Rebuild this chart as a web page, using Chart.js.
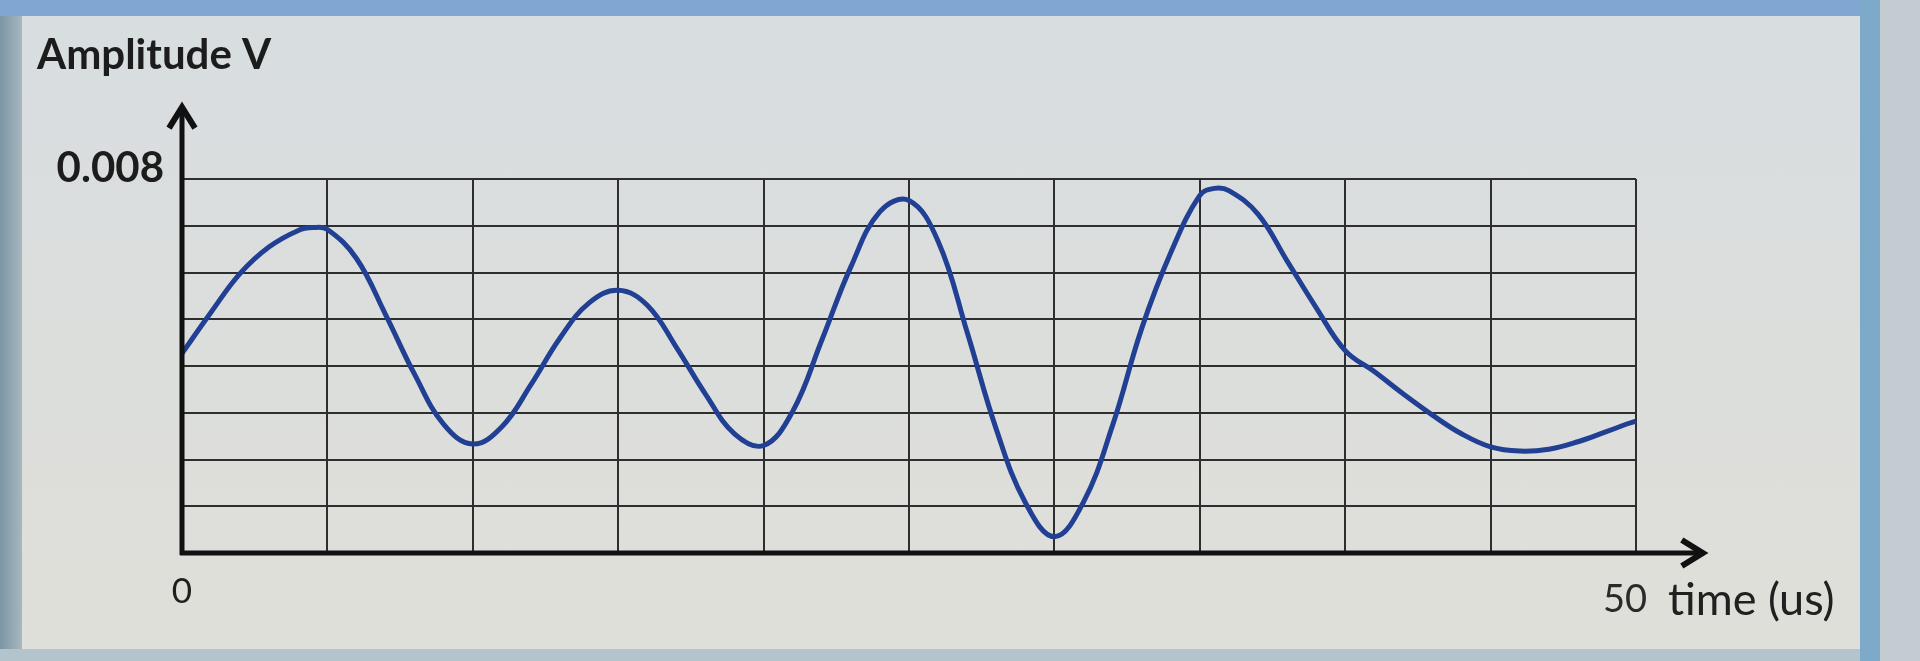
<!DOCTYPE html>
<html>
<head>
<meta charset="utf-8">
<script src="https://cdn.jsdelivr.net/npm/chart.js@4.4.1/dist/chart.umd.min.js"></script>
<style>
  html, body { margin: 0; padding: 0; }
  body { width: 1920px; height: 661px; overflow: hidden; position: relative;
         background: linear-gradient(to right, #7b95a4 0px, #a7b8bf 22px, #b8c7cf 100%); }
  .topband { position: absolute; left: 0; top: 0; width: 1920px; height: 16px; background: #80a7d2; }
  .rightband { position: absolute; left: 1860px; top: 0; width: 20px; height: 661px; background: #7eaaca; }
  .rightedge { position: absolute; left: 1880px; top: 0; width: 40px; height: 661px; background: #c3ccd0; }
  .bottomband { position: absolute; left: 0; top: 649px; width: 1860px; height: 12px; background: #b3c4cc; }
  .panel { position: absolute; left: 22px; top: 16px; width: 1838px; height: 633px;
           background: linear-gradient(to bottom, #d8dde1 0%, #dcdedc 50%, #dfdfd9 100%); }
  canvas { position: absolute; left: 0; top: 0; }
</style>
</head>
<body>
<div class="topband"></div>
<div class="rightband"></div>
<div class="rightedge"></div>
<div class="bottomband"></div>
<div class="panel"></div>
<canvas id="wave" width="1920" height="661"></canvas>
<script>
// time in microseconds, amplitude in millivolts
const timeUs = [0, 1, 2, 3, 4, 4.5, 5, 6, 7, 8, 9, 10, 11, 12, 13, 14, 15, 16, 17, 18, 19,
  20, 21, 22, 23, 24, 25, 26, 27, 28, 29, 30, 31, 32, 33, 34, 35, 35.5, 36, 37, 38, 39,
  40, 41, 42, 43, 44, 45, 46, 47, 48, 49, 50, 50.5];
const amplitudeMv = [4.27, 5.15, 5.98, 6.55, 6.9, 6.96, 6.92, 6.3, 5.1, 3.82, 2.75, 2.33, 2.7, 3.6, 4.6, 5.35, 5.62, 5.3, 4.4, 3.4, 2.55,
  2.3, 3.03, 4.55, 6.12, 7.3, 7.54, 6.67, 4.72, 2.65, 1.08, 0.35, 1.09, 2.73, 4.8, 6.42, 7.65, 7.8, 7.75, 7.25, 6.25, 5.25,
  4.33, 3.88, 3.4, 2.95, 2.55, 2.27, 2.18, 2.22, 2.38, 2.6, 2.82, 2.86];

// grid positions
const xGridUs = [0, 5, 10, 15, 20, 25, 30, 35, 40, 45, 50];
const yGridV = [0, 0.001, 0.002, 0.003, 0.004, 0.005, 0.006, 0.007, 0.008];

// labelled ticks and titles
const yLabelTicks = [0.008];
const xLabelTicks = [0];
const xEndLabel = '50';
const xTitle = 'time (us)';
const yTitle = 'Amplitude V';

const points = timeUs.map((t, i) => ({ x: t, y: amplitudeMv[i] / 1000 }));

const ink = '#1c1c1c';

// axis lines with arrow heads, the end label and the two axis titles
const axesOverlay = {
  id: 'axesOverlay',
  afterDatasetsDraw(chart) {
    const ctx = chart.ctx;
    const x = chart.scales.x, y = chart.scales.y;
    const x0 = x.getPixelForValue(0), y0 = y.getPixelForValue(0);
    const x50 = x.getPixelForValue(50);
    const xTip = x.getPixelForValue(52.4);
    const yTip = y.getPixelForValue(0.0096);
    ctx.save();
    ctx.strokeStyle = '#111';
    ctx.lineWidth = 5;
    ctx.beginPath();
    ctx.moveTo(x0, y0 + 2);
    ctx.lineTo(x0, yTip + 4);
    ctx.moveTo(x0 - 2, y0);
    ctx.lineTo(xTip - 4, y0);
    ctx.stroke();
    // arrow heads
    ctx.lineWidth = 6;
    ctx.lineJoin = 'miter';
    ctx.beginPath();
    ctx.moveTo(x0 - 13, yTip + 24);
    ctx.lineTo(x0, yTip + 3);
    ctx.lineTo(x0 + 13, yTip + 24);
    ctx.moveTo(xTip - 24, y0 - 13);
    ctx.lineTo(xTip - 3, y0);
    ctx.lineTo(xTip - 24, y0 + 13);
    ctx.stroke();

    ctx.fillStyle = ink;
    ctx.textBaseline = 'alphabetic';
    ctx.textAlign = 'left';
    ctx.font = 'bold 42px Lato';
    ctx.fillText(yTitle, 37, 69);
    ctx.fillStyle = '#2a2a2a';
    ctx.font = '38px Lato';
    ctx.fillText(xEndLabel, x50 - 33, 612);
    ctx.fillStyle = '#202020';
    ctx.font = '45px Lato';
    ctx.fillText(xTitle, x50 + 32, 615);
    ctx.restore();
  }
};

new Chart(document.getElementById('wave'), {
  type: 'line',
  data: {
    datasets: [{
      data: points,
      borderColor: '#213f93',
      borderWidth: 5,
      pointRadius: 0,
      fill: false,
      clip: false,
      tension: 0.4
    }]
  },
  options: {
    responsive: false,
    animation: false,
    layout: { padding: { left: 0, top: 179, right: 284, bottom: 0 } },
    plugins: { legend: { display: false }, tooltip: { enabled: false } },
    scales: {
      x: {
        type: 'linear',
        min: 0,
        max: 50,
        border: { display: false },
        grid: { color: '#2e2e2e', lineWidth: 2, drawTicks: false },
        afterFit: (s) => { s.height = 108; },
        afterBuildTicks: (s) => { s.ticks = xGridUs.map(v => ({ value: v })); },
        ticks: {
          autoSkip: false,
          padding: 18,
          maxRotation: 0,
          color: '#1e1e1e',
          font: { family: 'Lato', size: 35 },
          callback: (v) => xLabelTicks.includes(v) ? String(v) : ''
        }
      },
      y: {
        type: 'linear',
        min: 0,
        max: 0.008,
        border: { display: false },
        grid: { color: '#2e2e2e', lineWidth: 2, drawTicks: false },
        afterFit: (s) => { s.width = 182; },
        afterBuildTicks: (s) => { s.ticks = yGridV.map(v => ({ value: v })); },
        ticks: {
          autoSkip: false,
          padding: 18,
          labelOffset: -11,
          color: ink,
          font: { family: 'Lato', size: 42, weight: 'bold' },
          callback: (v) => yLabelTicks.some(t => Math.abs(t - v) < 1e-9) ? '0.008' : ''
        }
      }
    }
  },
  plugins: [axesOverlay]
});
</script>
</body>
</html>
